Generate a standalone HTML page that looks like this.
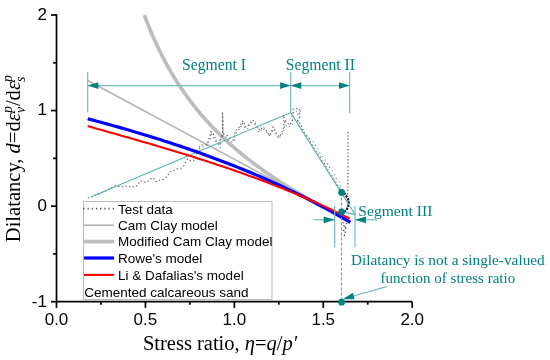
<!DOCTYPE html>
<html><head><meta charset="utf-8"><style>
html,body{margin:0;padding:0;background:#fff;width:550px;height:360px;overflow:hidden}
svg{display:block}
</style></head><body>
<svg width="550" height="360" viewBox="0 0 550 360">
<rect width="550" height="360" fill="#fff"/>
<path d="M87.69,80.49 L350.31,221.61" fill="none" stroke="#b4b4b4" stroke-width="1.6"/>
<path d="M144.36,14.99 L146.08,19.58 L147.80,24.01 L149.52,28.29 L151.24,32.44 L152.96,36.45 L154.68,40.34 L156.40,44.11 L158.12,47.77 L159.84,51.32 L161.56,54.77 L163.28,58.13 L165.00,61.39 L166.72,64.57 L168.44,67.66 L170.16,70.67 L171.88,73.61 L173.60,76.47 L175.32,79.27 L177.04,82.00 L178.76,84.66 L180.48,87.26 L182.20,89.81 L183.92,92.30 L185.64,94.73 L187.37,97.11 L189.09,99.45 L190.81,101.73 L192.53,103.97 L194.25,106.17 L195.97,108.32 L197.69,110.43 L199.41,112.50 L201.13,114.53 L202.85,116.53 L204.57,118.49 L206.29,120.41 L208.01,122.30 L209.73,124.16 L211.45,125.99 L213.17,127.79 L214.89,129.56 L216.61,131.31 L218.33,133.02 L220.05,134.71 L221.77,136.37 L223.49,138.01 L225.21,139.62 L226.93,141.21 L228.65,142.78 L230.37,144.33 L232.09,145.85 L233.81,147.36 L235.53,148.84 L237.25,150.31 L238.97,151.76 L240.69,153.18 L242.41,154.59 L244.13,155.99 L245.85,157.36 L247.57,158.72 L249.29,160.06 L251.01,161.39 L252.73,162.70 L254.45,164.00 L256.17,165.29 L257.89,166.55 L259.61,167.81 L261.33,169.05 L263.05,170.28 L264.77,171.50 L266.49,172.70 L268.21,173.90 L269.93,175.08 L271.65,176.24 L273.37,177.40 L275.09,178.55 L276.82,179.69 L278.54,180.81 L280.26,181.93 L281.98,183.03 L283.70,184.13 L285.42,185.21 L287.14,186.29 L288.86,187.36 L290.58,188.42 L292.30,189.47 L294.02,190.51 L295.74,191.54 L297.46,192.57 L299.18,193.59 L300.90,194.59 L302.62,195.60 L304.34,196.59 L306.06,197.58 L307.78,198.56 L309.50,199.53 L311.22,200.50 L312.94,201.45 L314.66,202.41 L316.38,203.35 L318.10,204.29 L319.82,205.23 L321.54,206.15 L323.26,207.07 L324.98,207.99 L326.70,208.90 L328.42,209.80 L330.14,210.70 L331.86,211.59 L333.58,212.48 L335.30,213.36 L337.02,214.24 L338.74,215.11 L340.46,215.98 L342.18,216.84 L343.90,217.70 L345.62,218.55 L347.34,219.40 L349.06,220.25" fill="none" stroke="#bdbdbd" stroke-width="3.7"/>
<path d="M87.80,198.30 L91.80,196.70 L95.70,195.00 L99.60,194.10 L103.40,191.70 L107.30,190.30 L110.70,188.30 L114.60,185.90 L118.40,186.70 L122.30,186.70 L126.80,186.10 L131.20,186.70 L135.10,187.20 L138.40,183.90 L140.70,180.60 L143.30,182.20 L147.20,182.00 L150.60,179.10 L153.30,177.80 L156.10,181.70 L160.00,180.00 L163.30,179.40 L166.70,176.70 L169.40,172.80 L172.20,170.60 L176.10,170.00 L177.20,168.90 L181.10,168.30 L183.90,165.60 L185.60,161.70 L187.80,158.90 L191.10,161.10 L194.40,160.00 L197.00,152.00 L200.00,145.80 L201.70,145.00 L207.50,144.20 L208.30,140.80 L210.00,135.80 L210.80,131.70 L212.50,132.50 L215.00,137.50 L216.70,142.50 L220.00,145.00 L220.80,138.30 L222.50,134.00 L222.50,111.70 L222.50,134.00 L225.00,134.20 L227.50,135.80 L230.80,139.20 L233.30,140.00 L234.20,136.70 L235.00,132.50 L237.50,128.30 L240.00,126.70 L241.70,121.70 L243.30,120.80 L245.60,126.90 L247.50,126.70 L250.00,123.10 L252.50,120.00 L255.00,122.50 L256.90,126.30 L260.00,130.60 L262.50,126.90 L265.00,128.80 L266.90,131.90 L269.40,135.60 L271.30,131.90 L273.10,126.90 L275.60,131.30 L276.90,134.40 L280.00,136.90 L281.30,132.50 L283.10,130.00 L283.80,126.30 L283.80,121.90 L283.80,117.50 L286.30,121.90 L289.40,125.00 L291.90,121.90 L293.10,116.90 L293.10,113.10 L293.10,109.40 L296.00,108.50 L299.40,108.80 L299.40,112.50 L300.00,116.30 L297.50,120.60 L301.30,125.00 L301.75,128.00 L303.58,130.50 L304.50,133.00 L306.44,135.50 L308.64,138.00 L310.23,140.50 L310.58,143.00 L312.29,145.50 L313.63,148.00 L315.84,150.50 L316.77,153.00 L319.03,155.50 L320.93,158.00 L321.92,160.50 L324.14,163.00 L325.59,165.50 L326.27,168.00 L328.71,170.50 L329.82,173.00 L331.65,175.50 L333.02,178.00 L335.27,180.50 L336.45,183.00 L337.58,185.50 L339.78,188.00 L341.75,190.50" fill="none" stroke="#666" stroke-width="1.2" stroke-dasharray="1.3 2.4"/>
<path d="M195.73,154.56 L199.82,148.25 L203.13,147.08 L207.50,145.34 L207.61,142.80 L210.54,138.41 L210.44,132.83 L211.86,135.32 L214.14,139.40 L217.99,143.55 L220.30,147.90 L219.99,140.40 L223.73,135.27 L222.57,114.20 L223.01,135.94 L224.11,136.18 L227.12,137.75 L230.40,141.88 L234.11,141.63 L234.42,138.25 L234.86,134.21 L237.97,130.04 L239.88,129.14 L241.44,124.51 L242.34,123.28 L245.37,128.75 L247.90,128.75 L249.74,124.10 L251.28,122.42 L255.07,124.89 L258.27,128.67 L258.66,132.22 L262.78,128.37 L266.39,131.69 L267.95,133.84 L270.42,136.86 L270.73,133.83 L273.83,128.87 L274.51,132.99 L276.37,136.00 L279.00,138.73 L281.14,135.05 L283.99,132.04 L283.68,128.86 L284.96,124.25 L284.70,120.38 L284.92,124.65 L288.73,126.95 L292.79,124.33 L292.04,119.22 L291.81,114.81 L294.04,111.26 L296.30,110.96 L300.36,111.32 L297.92,114.34 L299.89,117.41 L297.62,122.82" fill="none" stroke="#777" stroke-width="1.1" stroke-dasharray="1.2 2.8" stroke-dashoffset="1.5"/>
<path d="M311.79,138.00 L313.65,140.50 L313.28,143.00 L315.12,145.50 L317.73,148.00 L318.05,150.50 L319.86,153.00 L322.28,155.50 L322.90,158.00 L325.95,160.50 L327.72,163.00 L327.33,165.50 L330.11,168.00 L332.33,170.50 L334.34,173.00 L334.24,175.50 L335.58,178.00 L338.86,180.50 L340.52,183.00 L340.40,185.50 L342.57,188.00" fill="none" stroke="#888" stroke-width="1.1" stroke-dasharray="1.2 3.4" stroke-dashoffset="1"/>
<path d="M342.00,190.00 L345.00,194.00 L348.00,199.00 L349.00,204.00 L347.00,209.00 L344.00,212.50" fill="none" stroke="#1a1a1a" stroke-width="2.2" stroke-dasharray="2.4 0.9"/>
<path d="M342.50,222.50 L346.50,223.50 L343.00,226.50 L347.00,227.50 L343.50,230.50 L346.00,231.50 L344.00,234.50 L345.50,237.00" fill="none" stroke="#555" stroke-width="1.2" stroke-dasharray="1.6 1.8"/>
<path d="M347.90,132.00 L347.90,197.00" fill="none" stroke="#555" stroke-width="1.3" stroke-dasharray="1.2 2.2"/>
<path d="M90.80,197.00 L290.70,112.60 L355.10,214.40 L341.40,211.80" fill="none" stroke="#4fb0b0" stroke-width="1.1"/>
<path d="M87.69,118.80 L91.02,119.67 L94.34,120.54 L97.67,121.43 L100.99,122.32 L104.32,123.22 L107.64,124.13 L110.96,125.05 L114.29,125.97 L117.61,126.90 L120.94,127.85 L124.26,128.80 L127.59,129.75 L130.91,130.72 L134.23,131.70 L137.56,132.68 L140.88,133.68 L144.21,134.68 L147.53,135.69 L150.86,136.72 L154.18,137.75 L157.50,138.79 L160.83,139.84 L164.15,140.90 L167.48,141.97 L170.80,143.06 L174.12,144.15 L177.45,145.25 L180.77,146.37 L184.10,147.49 L187.42,148.63 L190.75,149.77 L194.07,150.93 L197.39,152.10 L200.72,153.29 L204.04,154.48 L207.37,155.69 L210.69,156.90 L214.02,158.14 L217.34,159.38 L220.66,160.64 L223.99,161.91 L227.31,163.19 L230.64,164.49 L233.96,165.80 L237.28,167.12 L240.61,168.46 L243.93,169.81 L247.26,171.18 L250.58,172.57 L253.91,173.96 L257.23,175.38 L260.55,176.81 L263.88,178.25 L267.20,179.71 L270.53,181.19 L273.85,182.68 L277.18,184.20 L280.50,185.72 L283.82,187.27 L287.15,188.84 L290.47,190.42 L293.80,192.02 L297.12,193.64 L300.44,195.28 L303.77,196.94 L307.09,198.62 L310.42,200.32 L313.74,202.04 L317.07,203.78 L320.39,205.54 L323.71,207.32 L327.04,209.13 L330.36,210.96 L333.69,212.81 L337.01,214.69 L340.34,216.59 L343.66,218.51 L346.98,220.46 L350.31,222.43" fill="none" stroke="#0000ff" stroke-width="3.2"/>
<path d="M87.70,126.08 L91.02,127.02 L94.34,127.96 L97.65,128.89 L100.97,129.83 L104.29,130.77 L107.61,131.71 L110.92,132.65 L114.24,133.59 L117.56,134.53 L120.88,135.47 L124.19,136.42 L127.51,137.36 L130.83,138.31 L134.15,139.27 L137.47,140.22 L140.78,141.18 L144.10,142.14 L147.42,143.10 L150.74,144.07 L154.05,145.04 L157.37,146.02 L160.69,147.00 L164.01,147.99 L167.33,148.98 L170.64,149.98 L173.96,150.98 L177.28,151.99 L180.60,153.00 L183.91,154.02 L187.23,155.05 L190.55,156.08 L193.87,157.12 L197.18,158.17 L200.50,159.23 L203.82,160.29 L207.14,161.36 L210.46,162.44 L213.77,163.53 L217.09,164.63 L220.41,165.74 L223.73,166.85 L227.04,167.98 L230.36,169.11 L233.68,170.26 L237.00,171.41 L240.32,172.58 L243.63,173.76 L246.95,174.95 L250.27,176.14 L253.59,177.36 L256.90,178.58 L260.22,179.81 L263.54,181.06 L266.86,182.32 L270.17,183.59 L273.49,184.88 L276.81,186.18 L280.13,187.49 L283.45,188.82 L286.76,190.16 L290.08,191.51 L293.40,192.88 L296.72,194.26 L300.03,195.66 L303.35,197.08 L306.67,198.51 L309.99,199.95 L313.31,201.42 L316.62,202.89 L319.94,204.39 L323.26,205.90 L326.58,207.43 L329.89,208.97 L333.21,210.54 L336.53,212.12 L339.85,213.72 L343.16,215.34 L346.48,216.97 L349.80,218.63" fill="none" stroke="#ff0000" stroke-width="2.1"/>
<g stroke="#000" stroke-width="1.7" fill="none">
<path d="M56.5,14.19 V301.70 H412.20"/>
<path d="M51.0,14.99 H56.5"/>
<path d="M51.0,110.56 H56.5"/>
<path d="M51.0,206.13 H56.5"/>
<path d="M51.0,301.70 H56.5"/>
<path d="M53.1,62.78 H56.5"/>
<path d="M53.1,158.34 H56.5"/>
<path d="M53.1,253.91 H56.5"/>
<path d="M56.50,301.7 V307.9"/>
<path d="M145.43,301.7 V307.9"/>
<path d="M234.35,301.7 V307.9"/>
<path d="M323.27,301.7 V307.9"/>
<path d="M412.20,301.7 V307.9"/>
<path d="M100.96,301.7 V304.7"/>
<path d="M189.89,301.7 V304.7"/>
<path d="M278.81,301.7 V304.7"/>
<path d="M367.74,301.7 V304.7"/>
</g>
<g font-family="Liberation Sans, Arial, sans-serif" font-size="17" fill="#000">
<text x="46.9" y="19.89" text-anchor="end">2</text>
<text x="46.9" y="115.46" text-anchor="end">1</text>
<text x="46.9" y="211.03" text-anchor="end">0</text>
<text x="46.9" y="306.60" text-anchor="end">-1</text>
<text x="56.50" y="325.3" text-anchor="middle">0.0</text>
<text x="145.43" y="325.3" text-anchor="middle">0.5</text>
<text x="234.35" y="325.3" text-anchor="middle">1.0</text>
<text x="323.27" y="325.3" text-anchor="middle">1.5</text>
<text x="412.20" y="325.3" text-anchor="middle">2.0</text>
</g>
<text x="142.9" y="350" font-family="Liberation Serif, Times New Roman, serif" font-size="20.5" fill="#000">Stress ratio, <tspan font-style="italic">η</tspan>=<tspan font-style="italic">q</tspan>/<tspan font-style="italic">p′</tspan></text>
<text transform="translate(20,242.2) rotate(-90)" font-family="Liberation Serif, Times New Roman, serif" font-size="20.55" fill="#000">Dilatancy, <tspan font-style="italic">d</tspan>=d<tspan font-style="italic">ε</tspan><tspan font-size="14" dy="5" font-style="italic">v</tspan><tspan font-size="14" dy="-13" dx="-6.2" font-style="italic">p</tspan><tspan dy="8">/d</tspan><tspan font-style="italic">ε</tspan><tspan font-size="14" dy="5" font-style="italic">s</tspan><tspan font-size="14" dy="-13" dx="-5.4" font-style="italic">p</tspan></text>
<rect x="83.5" y="201.5" width="188.5" height="98" fill="#fff" stroke="#bcbcbc" stroke-width="1"/>
<path d="M83.3,208.6 H114" stroke="#555" stroke-width="1.6" stroke-dasharray="1.3 2.9"/>
<path d="M84,225.2 H114" stroke="#b4b4b4" stroke-width="1.6"/>
<path d="M84,241.6 H114" stroke="#bdbdbd" stroke-width="3.7"/>
<path d="M84,258 H114" stroke="#0000ff" stroke-width="3.2"/>
<path d="M84,274.9 H114" stroke="#ff0000" stroke-width="2.1"/>
<g font-family="Liberation Sans, Arial, sans-serif" font-size="13.5" fill="#000">
<text x="118" y="213.8">Test data</text>
<text x="118" y="230.0">Cam Clay model</text>
<text x="118" y="246.4">Modified Cam Clay model</text>
<text x="118" y="262.8">Rowe's model</text>
<text x="118" y="279.7">Li &amp; Dafalias's model</text>
<text x="84.2" y="296.8">Cemented calcareous sand</text>
</g>
<g stroke="#72bebe" stroke-width="1.2" fill="none">
<path d="M87.7,72 V112.5"/>
<path d="M290.7,72 V112.5"/>
<path d="M349.6,72 V113.2"/>
<path d="M87.7,85.6 H349.6"/>
<path d="M334.7,205.8 V247.2"/>
<path d="M355,205.8 V247.2"/>
<path d="M313.7,219.8 H334.7"/>
<path d="M355,219.8 H377"/>
<path d="M386.6,286.7 L350,297"/>
</g>
<path d="M87.70,85.60 L98.30,82.20 L98.30,89.00 Z" fill="#008080"/>
<path d="M290.70,85.60 L280.10,89.00 L280.10,82.20 Z" fill="#008080"/>
<path d="M290.70,85.60 L301.30,82.20 L301.30,89.00 Z" fill="#008080"/>
<path d="M349.60,85.60 L339.00,89.00 L339.00,82.20 Z" fill="#008080"/>
<path d="M334.70,219.80 L323.70,223.20 L323.70,216.40 Z" fill="#008080"/>
<path d="M355.00,219.80 L366.00,216.40 L366.00,223.20 Z" fill="#008080"/>
<path d="M342.70,299.20 L352.83,292.78 L354.69,299.32 Z" fill="#008080"/>
<path d="M341.5,192.5 V302" stroke="#4fb0b0" stroke-width="1.1" stroke-dasharray="3 2"/>
<circle cx="341.6" cy="192.5" r="3.4" fill="#008080"/>
<circle cx="341.6" cy="212" r="3.4" fill="#008080"/>
<circle cx="341.6" cy="302.2" r="3.4" fill="#008080"/>
<g font-family="Liberation Serif, Times New Roman, serif" font-size="15" fill="#008080">
<text x="182" y="70" font-size="15.7">Segment I</text>
<text x="285.8" y="70" font-size="15.7">Segment II</text>
<text x="358.3" y="216.2" font-size="15.6">Segment III</text>
<text x="447.9" y="264.6" text-anchor="middle" font-size="15.3">Dilatancy is not a single-valued</text>
<text x="447.9" y="282.7" text-anchor="middle">function of stress ratio</text>
</g>
</svg>
</body></html>
